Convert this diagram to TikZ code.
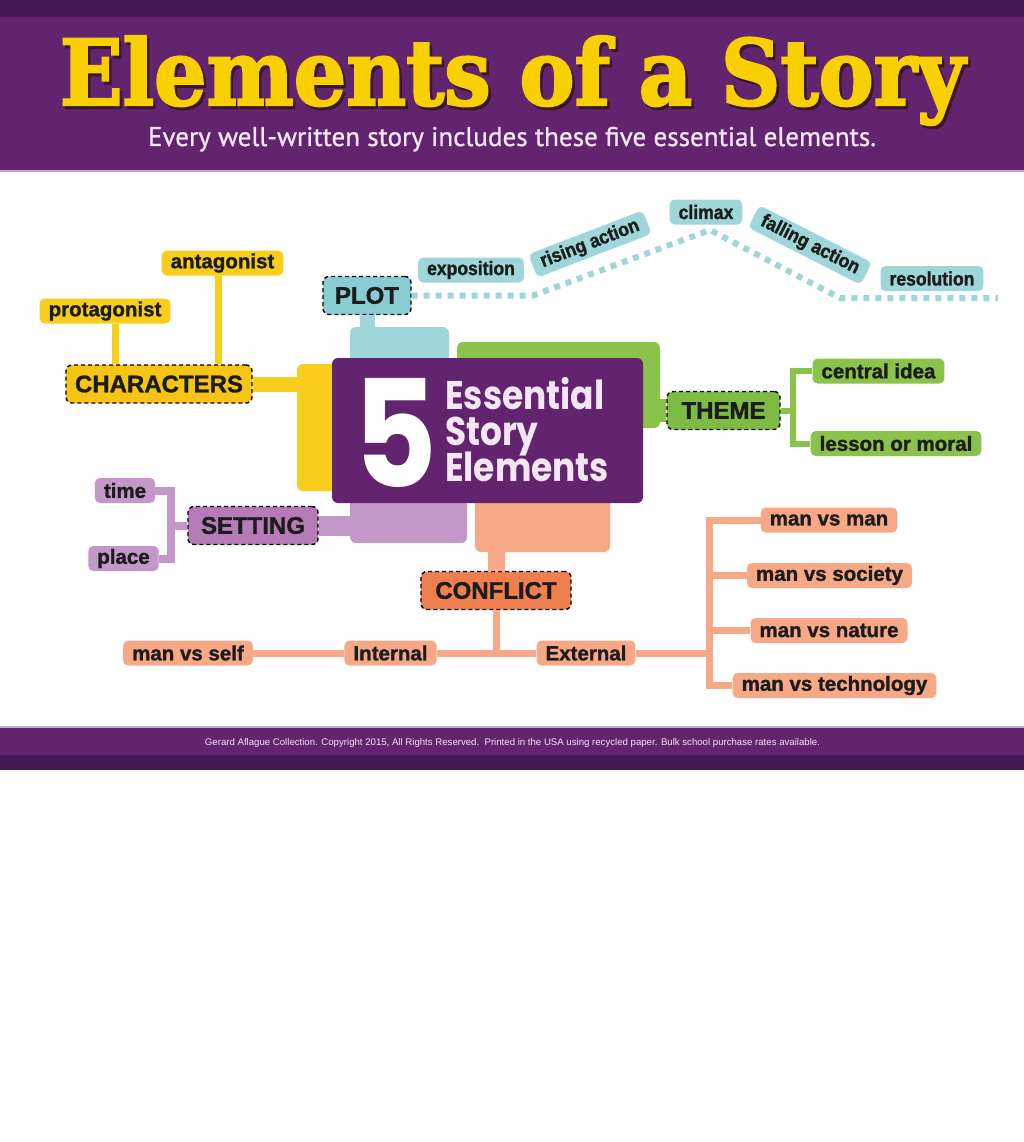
\documentclass[tikz,border=0pt]{standalone}
\usepackage{fontspec}
\setmainfont{Liberation Sans}[BoldFeatures={FakeBold=1.3}]
\newfontfamily\narrowsans{Liberation Sans}[BoldFeatures={FakeBold=1.3,FakeStretch=0.9}]
\newfontfamily\titlefont{DejaVu Serif}[BoldFeatures={FakeBold=2.5}]
\newfontfamily\geofont{Poppins}[BoldFeatures={FakeStretch=0.86}]
\newfontfamily\subfont{PT Sans}[FakeBold=0.8]

\definecolor{bandpurple}{HTML}{63246F}
\definecolor{banddark}{HTML}{441A55}
\definecolor{bandline}{HTML}{C9A6CF}
\definecolor{titleyellow}{HTML}{F8D000}
\definecolor{titleshadow}{HTML}{3A1626}
\definecolor{subpink}{HTML}{F3E6F3}
\definecolor{plotcyan}{HTML}{9ED6DA}
\definecolor{plotdark}{HTML}{88CDD3}
\definecolor{charyellow}{HTML}{F9CD1C}
\definecolor{chardark}{HTML}{F6C414}
\definecolor{themegreen}{HTML}{8BC34A}
\definecolor{themedark}{HTML}{7CBB44}
\definecolor{setlilac}{HTML}{C497C9}
\definecolor{setdark}{HTML}{B47BB7}
\definecolor{confsalmon}{HTML}{F7A887}
\definecolor{confdark}{HTML}{EF7F4F}
\definecolor{inkdark}{HTML}{1C1C1C}

\begin{document}
\begin{tikzpicture}[x=1pt, y=-1pt,
  lbl/.style={fill=#1, rounded corners=5pt, minimum height=25pt, inner xsep=9pt, inner ysep=0pt, text=inkdark, font=\bfseries\fontsize{20.5}{22}\selectfont},
  plotlbl/.style={lbl=plotcyan, font=\narrowsans\bfseries\fontsize{19.5}{21}\selectfont},
  head/.style={draw=black, line width=1.4pt, dash pattern=on 4pt off 3pt, fill=#1, rounded corners=6pt, minimum height=38pt, inner xsep=9pt, inner ysep=0pt, text=inkdark, font=\bfseries\fontsize{24}{28}\selectfont},
  blk/.style={fill=#1, rounded corners=6pt, inner sep=0pt},
  twig/.style={draw=#1, line width=7pt},
  word/.style={anchor=base west, inner sep=0pt, text=subpink, font=\geofont\bfseries\fontsize{40}{40}\selectfont}]
\useasboundingbox (0,0) rectangle (1024,1142);
\fill[white] (0,0) rectangle (1024,1142);

% header and footer bands
\fill[banddark] (0,0) rectangle (1024,17);
\fill[bandpurple] (0,17) rectangle (1024,170);
\fill[bandline] (0,170) rectangle (1024,172);
\fill[bandline] (0,726) rectangle (1024,728);
\fill[bandpurple] (0,728) rectangle (1024,755);
\fill[banddark] (0,755) rectangle (1024,770);
\node[anchor=base, inner sep=0pt, text=titleshadow] (titleshd) at (515,108) {\resizebox{905pt}{69pt}{\titlefont\bfseries Elements of a Story}};
\node[anchor=base, inner sep=0pt, text=titleyellow] (title) at (512.5,105) {\resizebox{905pt}{69pt}{\titlefont\bfseries Elements of a Story}};
\node[anchor=base, inner sep=0pt, text=subpink] (subtitle) at (512,146) {\resizebox{728pt}{!}{\subfont Every well-written story includes these five essential elements.}};
\node[anchor=base, inner sep=0pt, text=subpink] (footer) at (512.5,745) {\resizebox{615pt}{!}{\narrowsans Gerard Aflague Collection. Copyright 2015, All Rights Reserved.\ \ Printed in the USA using recycled paper. Bulk school purchase rates available.}};

% blocks behind the centre
\node[blk=plotcyan, minimum width=99pt, minimum height=73pt] (plotblk) at (399.5,363.5) {};
\node[blk=themegreen, minimum width=203pt, minimum height=86pt] (greenblk) at (558.5,385) {};
\node[blk=charyellow, minimum width=63pt, minimum height=127pt] (yelblk) at (328.5,427.5) {};
\node[blk=setlilac, minimum width=117pt, minimum height=73pt] (lilblk) at (408.5,506.5) {};
\node[blk=confsalmon, minimum width=135pt, minimum height=82pt] (salblk) at (542.5,511) {};
\node[blk=bandpurple, minimum width=311pt, minimum height=145pt] (core) at (487.5,430.5) {};
\node[anchor=base west, inner sep=0pt, text=white] (five) at (353,487) {\resizebox{84pt}{109pt}{\geofont\bfseries 5}};
\node[word] (ess) at (445,409) {Essential};
\node[word] (sto) at (445,445) {Story};
\node[word] (ele) at (445,481) {Elements};

% plot
\node[head=plotdark, minimum width=88pt] (plot) at (367,295.5) {PLOT};
\node[plotlbl] (expo) at (471,270) {exposition};
\node[plotlbl, rotate=21] (rising) at (590,244) {rising action};
\node[plotlbl] (climax) at (706,212) {climax};
\node[plotlbl, rotate=-27] (falling) at (810,245) {falling action};
\node[plotlbl] (resol) at (932,278.5) {resolution};
\coordinate (riseA) at (533,297);
\coordinate (peak) at (710,230);
\coordinate (fallB) at (840,298);
\coordinate (plotend) at (998,298);
\draw[plotcyan, line width=6pt, dash pattern=on 6pt off 6pt] (plot.east) -- (plot.east -| riseA) -- (peak) -- (fallB) -- (plotend);
\draw[plotcyan, line width=15pt] (plot.south) -- (plot.south |- plotblk.north);

% characters
\node[head=chardark, minimum width=186pt] (chars) at (159,384) {CHARACTERS};
\node[lbl=charyellow] (protag) at (105,311) {protagonist};
\node[lbl=charyellow] (antag) at (222.5,263) {antagonist};
\draw[twig=charyellow] ([xshift=10pt]protag.south) -- ([xshift=10pt]protag.south |- chars.north);
\draw[twig=charyellow] ([xshift=-4pt]antag.south) -- ([xshift=-4pt]antag.south |- chars.north);
\draw[charyellow, line width=15pt] (chars.east) -- (chars.east -| yelblk.west);

% theme
\node[head=themedark, minimum width=113pt] (theme) at (723.5,410.5) {THEME};
\node[lbl=themegreen] (cidea) at (878.5,371) {central idea};
\node[lbl=themegreen] (lmoral) at (896,443.5) {lesson or moral};
\draw[themegreen, line width=23pt] (greenblk.east |- theme.west) -- (theme.west);
\coordinate (tfork) at ([xshift=12pt]theme.east);
\draw[twig=themegreen, line width=6pt] (theme.east) -- (tfork);
\draw[twig=themegreen, line width=6pt] (cidea.west) -| (tfork) |- (lmoral.west);

% setting
\node[head=setdark, minimum width=130pt] (setting) at (253,525.5) {SETTING};
\node[lbl=setlilac] (time) at (125,490.5) {time};
\node[lbl=setlilac] (place) at (123.5,558.5) {place};
\draw[setlilac, line width=20pt] (setting.east) -- (setting.east -| lilblk.west);
\coordinate (sfork) at ([xshift=-16pt]setting.west);
\draw[twig=setlilac, line width=8pt] (setting.west) -- (sfork);
\draw[twig=setlilac, line width=8pt] (time.east) -| (sfork) |- (place.east);

% conflict
\node[head=confdark, minimum width=150pt] (conflict) at (496,590.5) {CONFLICT};
\node[lbl=confsalmon] (mself) at (188,653) {man vs self};
\node[lbl=confsalmon] (internal) at (390.5,653) {Internal};
\node[lbl=confsalmon] (external) at (586,653) {External};
\node[lbl=confsalmon] (mvm) at (829,520) {man vs man};
\node[lbl=confsalmon] (mvs) at (829.5,575.5) {man vs society};
\node[lbl=confsalmon] (mvn) at (829,630.5) {man vs nature};
\node[lbl=confsalmon] (mvt) at (834.5,685.5) {man vs technology};
\draw[confsalmon, line width=17pt] (salblk.south -| conflict.north) -- (conflict.north);
\draw[twig=confsalmon] (conflict.south) -- (conflict.south |- internal.east);
\draw[twig=confsalmon] (mself.east) -- (internal.west);
\draw[twig=confsalmon] (internal.east) -- (external.west);
\coordinate (trunk) at (709,653);
\draw[twig=confsalmon] (external.east) -- (trunk);
\draw[twig=confsalmon] (mvm.west) -| (trunk) |- (mvt.west);
\draw[twig=confsalmon] (trunk |- mvs.west) -- (mvs.west);
\draw[twig=confsalmon] (trunk |- mvn.west) -- (mvn.west);
\end{tikzpicture}
\end{document}
